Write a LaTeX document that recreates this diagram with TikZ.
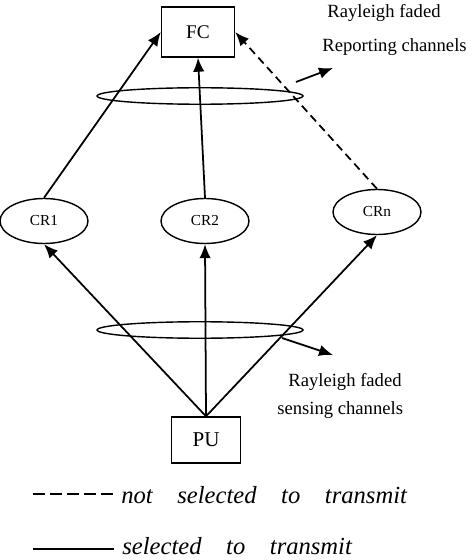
\documentclass[tikz,border=0pt]{standalone}
\usepackage{fontspec}
\setmainfont{Liberation Serif}
\usetikzlibrary{positioning, calc, arrows.meta, shapes.geometric}

\begin{document}
\begin{tikzpicture}[x=0.02cm,y=-0.02cm,
        box/.style={draw,line width=0.8pt,minimum width=1.46cm,minimum height=1cm,inner sep=0pt},
        cr/.style={draw,ellipse,line width=0.8pt,minimum width=1.76cm,minimum height=0.9cm,inner sep=0pt,font=\fontsize{8.7}{10}\selectfont},
        ring/.style={draw,ellipse,line width=0.8pt,minimum width=4.12cm,minimum height=0.33cm,inner sep=0pt},
        link/.style={line width=1pt,-{Latex[length=2.8mm,width=2.3mm]}},
        lab/.style={anchor=west,inner sep=0pt,font=\fontsize{10.6}{12}\selectfont}]
        \useasboundingbox (0,0) rectangle (474,560);
        %centro di fusione e utente primario
        \node[box,font=\fontsize{11}{13}\selectfont] (FC) at (198,32) {FC};
        \node[box,minimum width=1.38cm,minimum height=0.92cm,font=\fontsize{12}{14}\selectfont] (PU) at (206,440) {PU};
        %radio cognitive
        \node[cr] (CR1) at (44,221) {CR1};
        \node[cr] (CR2) at (205,221) {CR2};
        \node[cr] (CRn) at (377,212) {CRn};
        %canali di report
        \draw[link] (CR1.north) -- (FC.west);
        \draw[link] (CR2.north) -- (FC.south);
        \draw[link,dash pattern=on 1.6mm off 1mm] (CRn.north) -- (FC.east);
        %canali di sensing
        \draw[link] (PU.north) -- (CR1.south);
        \draw[link] (PU.north) -- (CR2.south);
        \draw[link] (PU.north) -- (CRn.south);
        %anelli dei canali
        \node[ring] (rep) at (200,96) {};
        \node[ring] (sen) at (200,330) {};
        %etichette
        \coordinate (repA) at (296,82);
        \coordinate (repB) at (333,68);
        \draw[link] (repA) -- (repB);
        \node[lab] (repT1) at (327,13) {Rayleigh faded};
        \node[lab] (repT2) at (322,47) {Reporting channels};
        \coordinate (senA) at (282,338);
        \coordinate (senB) at (333,355);
        \draw[link] (senA) -- (senB);
        \node[lab] (senT1) at (288,382) {Rayleigh faded};
        \node[lab] (senT2) at (277,410) {sensing channels};
        %legenda
        \coordinate (leg1a) at (33,494);
        \coordinate (leg1b) at (117,494);
        \draw[line width=0.7pt,dash pattern=on 2.4mm off 1mm] (leg1a) -- (leg1b);
        \node[lab,font=\fontsize{14}{16}\itshape] (leg1) at (121,495) {not\quad selected\quad to\quad transmit};
        \coordinate (leg2a) at (33,549);
        \coordinate (leg2b) at (114,549);
        \draw[line width=0.9pt] (leg2a) -- (leg2b);
        \node[lab,font=\fontsize{14}{16}\itshape] (leg2) at (122,546) {selected\quad to\quad transmit};
\end{tikzpicture}
\end{document}
